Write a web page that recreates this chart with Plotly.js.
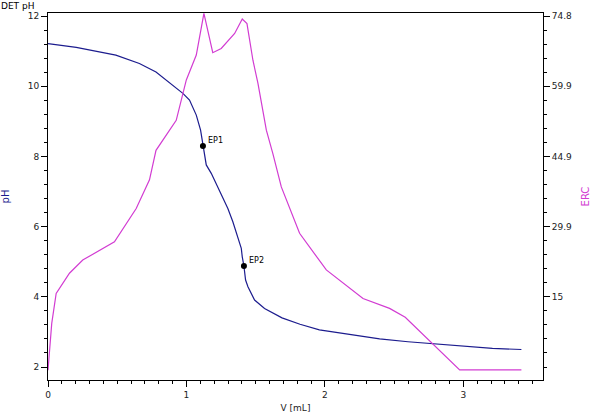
<!DOCTYPE html>
<html>
<head>
<meta charset="utf-8">
<script src="https://cdn.plot.ly/plotly-3.0.1.min.js"></script>
<style>html,body{margin:0;padding:0;background:#fff;}#chart{width:591px;height:415px;}</style>
</head>
<body>
<div id="chart"></div>
<script>
// pH titration curve
var phVolume = [0, 0.204, 0.49, 0.66, 0.78, 0.90, 0.974, 1.022, 1.071, 1.102, 1.119, 1.143, 1.179, 1.239, 1.299, 1.335, 1.371, 1.396, 1.403, 1.415, 1.427, 1.444, 1.492, 1.564, 1.69, 1.82, 1.96, 2.18, 2.395, 2.60, 2.78, 2.95, 3.21, 3.419];
var phValues = [11.22, 11.11, 10.89, 10.65, 10.41, 10.03, 9.80, 9.61, 9.18, 8.75, 8.30, 7.76, 7.52, 7.04, 6.52, 6.14, 5.71, 5.38, 5.14, 4.88, 4.48, 4.29, 3.91, 3.67, 3.40, 3.22, 3.06, 2.93, 2.80, 2.72, 2.66, 2.61, 2.53, 2.50];
// ERC curve
var ercVolume = [0, 0.027, 0.059, 0.155, 0.251, 0.48, 0.637, 0.733, 0.78, 0.926, 0.999, 1.058, 1.071, 1.126, 1.143, 1.19, 1.251, 1.348, 1.403, 1.437, 1.48, 1.516, 1.577, 1.624, 1.685, 1.817, 2.01, 2.275, 2.467, 2.58, 2.973, 3.419];
var ercValues = [-0.7, 9.3, 15.7, 20.0, 22.8, 26.7, 33.8, 39.9, 46.2, 52.6, 61.2, 65.6, 66.5, 75.4, 73.2, 67.0, 67.9, 71.1, 74.2, 73.2, 65.4, 60.5, 50.5, 45.5, 38.4, 28.5, 20.7, 14.6, 12.5, 10.6, -0.6, -0.6];
// Equivalence points
var epNames = ["EP1", "EP2"];
var epVolume = [1.119, 1.415];
var epPH = [8.30, 4.88];
// Axis ticks
var phTicks = [2, 4, 6, 8, 10, 12];
var ercTickVals = [14.96, 29.92, 44.88, 59.84, 74.8];
var ercTickText = ["15", "29.9", "44.9", "59.9", "74.8"];
var xTicks = [0, 1, 2, 3];

var ercPerPH = 7.48;
var phRange = [1.63, 12.09];
var ercRange = phRange.map(function (v) { return ercPerPH * (v - 2); });

var blue = "#1c1c8e";
var pink = "#d23cd2";
var fam = "DejaVu Sans, Verdana, sans-serif";
var tickFont = {family: fam, size: 9, color: "#222"};

var traces = [
  {x: ercVolume, y: ercValues, yaxis: "y2", type: "scatter", mode: "lines",
   line: {color: pink, width: 1.2}, hoverinfo: "skip"},
  {x: phVolume, y: phValues, type: "scatter", mode: "lines",
   line: {color: blue, width: 1.2}, hoverinfo: "skip"},
  {x: epVolume, y: epPH, type: "scatter", mode: "markers",
   marker: {color: "#000", size: 6}, hoverinfo: "skip"}
];

var annotations = [
  {text: "DET pH", xref: "paper", yref: "paper", x: 0, y: 1, xanchor: "left", yanchor: "top",
   xshift: -48, yshift: 13, showarrow: false, borderpad: 0,
   font: {family: fam, size: 9, color: "#000"}}
];
epNames.forEach(function (name, i) {
  annotations.push({text: name, x: epVolume[i], y: epPH[i], xref: "x", yref: "y",
    xanchor: "left", yanchor: "middle", xshift: 4, yshift: 5, showarrow: false, borderpad: 0,
    font: {family: fam, size: 8, color: "#000"}});
});

var layout = {
  width: 591, height: 415,
  margin: {l: 48, r: 48, t: 13, b: 35, pad: 0},
  paper_bgcolor: "#fff", plot_bgcolor: "#fff",
  showlegend: false,
  font: tickFont,
  xaxis: {
    range: [0, 3.575], tickvals: xTicks, ticks: "outside", ticklen: 6, tickcolor: "#000",
    showline: true, linecolor: "#000", linewidth: 1, mirror: true, showgrid: false, zeroline: false,
    tickfont: tickFont,
    minor: {tick0: 0, dtick: 0.1, ticks: "outside", ticklen: 3, tickcolor: "#000", showgrid: false},
    title: {text: "V [mL]", font: tickFont, standoff: 5}
  },
  yaxis: {
    range: phRange, tickvals: phTicks, ticks: "outside", ticklen: 6, tickcolor: "#000",
    showline: true, linecolor: "#000", linewidth: 1, showgrid: false, zeroline: false,
    tickfont: tickFont,
    minor: {tick0: 0, dtick: 0.4, ticks: "outside", ticklen: 3, tickcolor: "#000", showgrid: false},
    title: {text: "pH", font: {family: fam, size: 10, color: blue}, standoff: 16}
  },
  yaxis2: {
    overlaying: "y", side: "right",
    range: ercRange, tickvals: ercTickVals, ticktext: ercTickText, ticks: "outside", ticklen: 6, tickcolor: "#000",
    showline: true, linecolor: "#000", linewidth: 1, showgrid: false, zeroline: false,
    tickfont: tickFont,
    minor: {tick0: 0, dtick: 2.992, ticks: "outside", ticklen: 3, tickcolor: "#000", showgrid: false},
    title: {text: "ERC", font: {family: fam, size: 10, color: pink}, standoff: 12}
  },
  annotations: annotations
};

Plotly.newPlot("chart", traces, layout, {displayModeBar: false, staticPlot: true});
</script>
</body>
</html>
